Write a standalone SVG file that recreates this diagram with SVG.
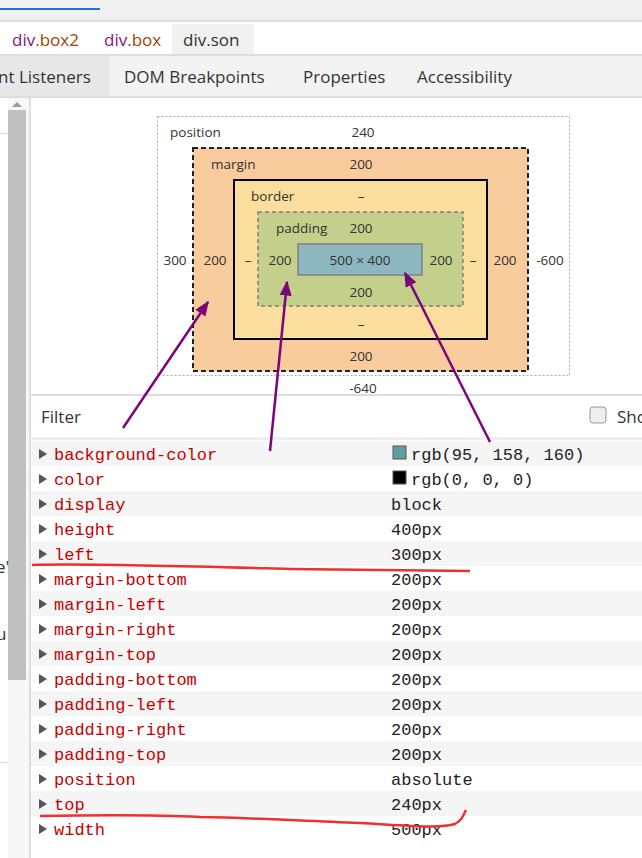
<svg xmlns="http://www.w3.org/2000/svg" width="642" height="858" viewBox="0 0 642 858">
<style>
.ui{font-family:"Open Sans","Noto Sans",sans-serif;font-size:17px;fill:#333}
.bm{font-family:"Open Sans","Noto Sans",sans-serif;font-size:13.5px;fill:#333;text-anchor:middle}
.bml{font-family:"Open Sans","Noto Sans",sans-serif;font-size:13.5px;fill:#333}
.pn{font-family:"Liberation Mono",monospace;font-size:17px;fill:#c80000}
.pv{font-family:"Liberation Mono",monospace;font-size:17px;fill:#222}
.arr{stroke:#7a067a;stroke-width:2.5;fill:none}
.red{stroke:#f03030;stroke-width:2.5;fill:none}
</style>
<defs>
<marker id="ah" viewBox="0 0 10 10" refX="9" refY="5" markerWidth="6" markerHeight="6" orient="auto" markerUnits="strokeWidth"><path d="M0,1 L10,5 L0,9 Z" fill="#7a067a"/></marker>
<polygon id="tri" points="0,-5 8,0 0,5" fill="#555"/>
</defs>
<rect width="642" height="858" fill="#fff"/>
<g id="topbar">
<rect x="0" y="0" width="642" height="20" fill="#f0f0f0"/>
<rect x="0" y="8" width="100" height="2" fill="#1a73e8"/>
<rect x="0" y="20" width="642" height="2" fill="#ddd"/>
</g>
<g id="breadcrumbs">
<rect x="172" y="24" width="82" height="30" fill="#f1f1f1"/>
<text class="ui" x="12" y="46"><tspan fill="#881280">div</tspan><tspan fill="#994500">.box2</tspan></text>
<text class="ui" x="104" y="46"><tspan fill="#881280">div</tspan><tspan fill="#994500">.box</tspan></text>
<text class="ui" x="183" y="46" fill="#222">div.son</text>
<rect x="0" y="54" width="642" height="2" fill="#ddd"/>
</g>
<g id="tabs">
<rect x="0" y="56" width="642" height="40" fill="#f3f3f3"/>
<rect x="0" y="56" width="110" height="40" fill="#e8e8e8"/>
<text class="ui" x="-2" y="83">nt Listeners</text>
<text class="ui" x="124" y="83">DOM Breakpoints</text>
<text class="ui" x="303" y="83">Properties</text>
<text class="ui" x="417" y="83">Accessibility</text>
<rect x="0" y="96" width="642" height="2" fill="#ddd"/>
</g>
<g id="leftpanel">
<rect x="0" y="98" width="30" height="760" fill="#f7f7f7"/>
<rect x="0" y="98" width="8" height="760" fill="#fff"/>
<rect x="8" y="110" width="18" height="570" fill="#c0c0c0"/>
<path d="M12,107 L17,102 L22,107" fill="#999"/>
<rect x="29" y="98" width="2" height="760" fill="#ddd"/>
<rect x="0" y="133" width="8" height="1" fill="#ddd"/>
<rect x="0" y="762" width="8" height="1" fill="#ddd"/>
<text class="ui" x="-4" y="573" font-size="14">e'</text>
<text class="ui" x="-4" y="640" font-size="14">u</text>
</g>
<g id="position">
<rect x="157.5" y="116.5" width="412" height="259" fill="#fff" stroke="#aaa" stroke-dasharray="2,2"/>
<text class="bml" x="170" y="137">position</text>
<text class="bm" x="363" y="137">240</text>
<text class="bm" x="175" y="265">300</text>
<text class="bm" x="550" y="265">-600</text>
<text class="bm" x="363" y="393">-640</text>
</g>
<g id="margin">
<rect x="193" y="148" width="335" height="223" fill="#f9cc9d" stroke="#222" stroke-width="2" stroke-dasharray="5,3"/>
<text class="bml" x="211" y="169">margin</text>
<text class="bm" x="361" y="169">200</text>
<text class="bm" x="215" y="265">200</text>
<text class="bm" x="505" y="265">200</text>
<text class="bm" x="361" y="361">200</text>
</g>
<g id="border">
<rect x="234" y="180" width="253" height="159" fill="#fbdd9d" stroke="#000" stroke-width="2"/>
<text class="bml" x="251" y="201">border</text>
<text class="bm" x="361" y="201">–</text>
<text class="bm" x="248" y="265">–</text>
<text class="bm" x="473" y="265">–</text>
<text class="bm" x="361" y="329">–</text>
</g>
<g id="padding">
<rect x="258" y="212" width="205" height="94" fill="#c3cf8a" stroke="#808080" stroke-width="1.5" stroke-dasharray="4,3"/>
<text class="bml" x="276" y="233">padding</text>
<text class="bm" x="361" y="233">200</text>
<text class="bm" x="280" y="265">200</text>
<text class="bm" x="441" y="265">200</text>
<text class="bm" x="361" y="297">200</text>
</g>
<g id="content">
<rect x="298" y="244" width="124" height="31" fill="#8cb6c0" stroke="#808080" stroke-width="1.5"/>
<text class="bm" x="360" y="265">500 × 400</text>
</g>
<g id="filter">
<rect x="30" y="394" width="612" height="2" fill="#ddd"/>
<text class="ui" x="41" y="423" fill="#777">Filter</text>
<rect x="590" y="407" width="16" height="16" rx="3" fill="#eee" stroke="#999"/>
<text class="ui" x="617" y="423">Sho</text>
<rect x="30" y="437" width="612" height="3" fill="#eee"/>
</g>
<g id="props">
<rect x="31" y="441" width="611" height="25" fill="#f5f5f5"/>
<rect x="31" y="491" width="611" height="25" fill="#f5f5f5"/>
<rect x="31" y="541" width="611" height="25" fill="#f5f5f5"/>
<rect x="31" y="591" width="611" height="25" fill="#f5f5f5"/>
<rect x="31" y="641" width="611" height="25" fill="#f5f5f5"/>
<rect x="31" y="691" width="611" height="25" fill="#f5f5f5"/>
<rect x="31" y="741" width="611" height="25" fill="#f5f5f5"/>
<rect x="31" y="791" width="611" height="25" fill="#f5f5f5"/>
<use href="#tri" x="39" y="454"/><use href="#tri" x="39" y="479"/><use href="#tri" x="39" y="504"/><use href="#tri" x="39" y="529"/><use href="#tri" x="39" y="554"/><use href="#tri" x="39" y="579"/><use href="#tri" x="39" y="604"/><use href="#tri" x="39" y="629"/><use href="#tri" x="39" y="654"/><use href="#tri" x="39" y="679"/><use href="#tri" x="39" y="704"/><use href="#tri" x="39" y="729"/><use href="#tri" x="39" y="754"/><use href="#tri" x="39" y="779"/><use href="#tri" x="39" y="804"/><use href="#tri" x="39" y="829"/>
<text class="pn" x="54" y="460">background-color</text>
<text class="pn" x="54" y="485">color</text>
<text class="pn" x="54" y="510">display</text>
<text class="pn" x="54" y="535">height</text>
<text class="pn" x="54" y="560">left</text>
<text class="pn" x="54" y="585">margin-bottom</text>
<text class="pn" x="54" y="610">margin-left</text>
<text class="pn" x="54" y="635">margin-right</text>
<text class="pn" x="54" y="660">margin-top</text>
<text class="pn" x="54" y="685">padding-bottom</text>
<text class="pn" x="54" y="710">padding-left</text>
<text class="pn" x="54" y="735">padding-right</text>
<text class="pn" x="54" y="760">padding-top</text>
<text class="pn" x="54" y="785">position</text>
<text class="pn" x="54" y="810">top</text>
<text class="pn" x="54" y="835">width</text>
<rect x="393" y="446" width="13" height="13" fill="#5f9ea0" stroke="#555"/>
<rect x="393" y="471" width="13" height="13" fill="#000" stroke="#555"/>
<text class="pv" x="411" y="460">rgb(95, 158, 160)</text>
<text class="pv" x="411" y="485">rgb(0, 0, 0)</text>
<text class="pv" x="391" y="510">block</text>
<text class="pv" x="391" y="535">400px</text>
<text class="pv" x="391" y="560">300px</text>
<text class="pv" x="391" y="585">200px</text>
<text class="pv" x="391" y="610">200px</text>
<text class="pv" x="391" y="635">200px</text>
<text class="pv" x="391" y="660">200px</text>
<text class="pv" x="391" y="685">200px</text>
<text class="pv" x="391" y="710">200px</text>
<text class="pv" x="391" y="735">200px</text>
<text class="pv" x="391" y="760">200px</text>
<text class="pv" x="391" y="785">absolute</text>
<text class="pv" x="391" y="810">240px</text>
<text class="pv" x="391" y="835">500px</text>
</g>
<g id="connectors">
<line class="arr" x1="123" y1="428" x2="208" y2="302" marker-end="url(#ah)"/>
<line class="arr" x1="270" y1="451" x2="287" y2="282" marker-end="url(#ah)"/>
<line class="arr" x1="490" y1="442" x2="405" y2="273" marker-end="url(#ah)"/>
<path class="red" d="M32,565 C80,563 180,566 290,569 C360,570 420,570 470,571"/>
<path class="red" d="M40,816 C100,815 160,815 200,817 C260,818 300,821 360,823 C400,825 440,829 455,824 C462,820 463,816 466,810"/>
</g>
</svg>
